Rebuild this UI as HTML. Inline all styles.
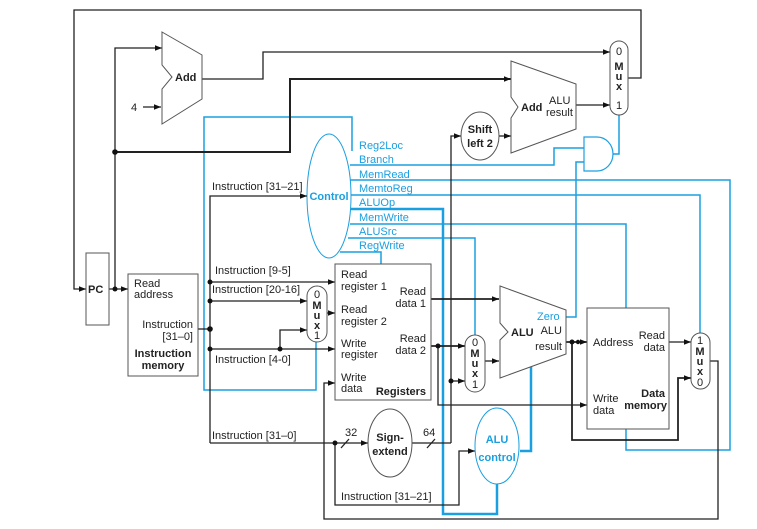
<!DOCTYPE html>
<html><head><meta charset="utf-8"><style>
html,body{margin:0;padding:0;background:#fff}
svg{display:block}
text{font-family:"Liberation Sans",Arial,sans-serif;font-size:11px;fill:#222}
.b{font-weight:bold}
.bl{fill:#1a9fe0}
</style></head><body>
<svg width="757" height="529" viewBox="0 0 757 529" xmlns="http://www.w3.org/2000/svg">
<defs>
<marker id="a" viewBox="0 0 10 10" refX="10" refY="5" markerWidth="7" markerHeight="7" markerUnits="userSpaceOnUse" orient="auto"><path d="M0,1 L10,5 L0,9z" fill="#111"/></marker>
</defs>
<g fill="none" stroke="#1a9fe0" stroke-width="1.5">
<polyline points="352,151 352,117 204,117 204,390 316,390 316,342"/>
<polyline points="350,165 554,165 554,148 584,148"/>
<polyline points="350,180 730,180 730,450 626,450 626,429"/>
<polyline points="348,195 700,195 700,333"/>
<polyline points="350,209 443,209 443,514 497,514 497,484" stroke-width="2.5"/>
<polyline points="350,224 626,224 626,308"/>
<polyline points="348,238 475,238 475,335"/>
<polyline points="340,252 381,252 381,264"/>
<polyline points="566,317 576,317 576,162 584,162"/>
<polyline points="611,154 619,154 619,115"/>
<polyline points="520,451 531,451 531,366" stroke-width="2.5"/>
</g>
<path d="M584,137 L597,137 A16,17 0 0 1 597,171 L584,171 Z" fill="#fff" stroke="#1a9fe0" stroke-width="1.2"/>
<ellipse cx="329" cy="196" rx="22" ry="62" fill="#fff" stroke="#1a9fe0" stroke-width="1"/>
<text x="329" y="200" text-anchor="middle" class="b bl">Control</text>
<g>
<text x="359" y="149" class="bl">Reg2Loc</text>
<text x="359" y="163" class="bl">Branch</text>
<text x="359" y="178" class="bl">MemRead</text>
<text x="359" y="192" class="bl">MemtoReg</text>
<text x="359" y="206" class="bl">ALUOp</text>
<text x="359" y="221" class="bl">MemWrite</text>
<text x="359" y="235" class="bl">ALUSrc</text>
<text x="359" y="249" class="bl">RegWrite</text>
</g>
<g fill="none" stroke="#222" stroke-width="1.3">
<polyline points="628,78 641,78 641,10 74,10 74,289 86,289" marker-end="url(#a)"/>
<polyline points="109,289 128,289" marker-end="url(#a)"/>
<polyline points="115,289 115,48 162,48" marker-end="url(#a)"/>
<polyline points="115,152 290,152 290,79 511,79" marker-end="url(#a)" stroke-width="2"/>
<polyline points="143,107 161,107" marker-end="url(#a)"/>
<polyline points="202,79 263,79 263,52 610,52" marker-end="url(#a)"/>
<polyline points="576,105 610,105" marker-end="url(#a)"/>
<polyline points="451,443 451,136 461,136" marker-end="url(#a)"/>
<polyline points="499,136 511,136" marker-end="url(#a)"/>
<polyline points="198,329 210,329"/>
<polyline points="210,443 210,196 307,196" marker-end="url(#a)"/>
<polyline points="210,282 335,282" marker-end="url(#a)"/>
<polyline points="210,301 307,301" marker-end="url(#a)"/>
<polyline points="210,349 335,349" marker-end="url(#a)"/>
<polyline points="280,349 280,330 307,330" marker-end="url(#a)"/>
<polyline points="327,313 335,313" marker-end="url(#a)"/>
<polyline points="210,443 368,443" marker-end="url(#a)"/>
<polyline points="335,443 335,505 459,505 459,451 475,451" marker-end="url(#a)"/>
<polyline points="412,443 451,443"/>
<polyline points="451,381 465,381" marker-end="url(#a)"/>
<polyline points="431,299 499,299" marker-end="url(#a)" stroke-width="1.8"/>
<polyline points="431,346 465,346" marker-end="url(#a)" stroke-width="1.8"/>
<polyline points="438,346 438,405 587,405" marker-end="url(#a)"/>
<polyline points="485,361 499,361" marker-end="url(#a)"/>
<polyline points="566,342 587,342" marker-end="url(#a)" stroke-width="1.8"/>
<polyline points="572,342 572,440 678,440 678,378 691,378" marker-end="url(#a)" stroke-width="1.8"/>
<polyline points="669,342 691,342" marker-end="url(#a)"/>
<polyline points="710,361 718,361 718,519 324,519 324,383 335,383" marker-end="url(#a)"/>
<line x1="341" y1="448" x2="349" y2="439"/>
<line x1="427" y1="448" x2="435" y2="439"/>
</g>
<g fill="#111">
<circle cx="115" cy="289" r="2.5"/><circle cx="115" cy="152" r="2.8"/>
<circle cx="210" cy="329" r="2.8"/><circle cx="210" cy="282" r="2.5"/><circle cx="210" cy="301" r="2.5"/><circle cx="210" cy="349" r="2.5"/>
<circle cx="280" cy="349" r="2.5"/><circle cx="335" cy="443" r="2.5"/><circle cx="451" cy="381" r="2.5"/>
<circle cx="438" cy="346" r="2.5"/><circle cx="572" cy="342" r="2.5"/><circle cx="578" cy="342" r="2.2"/>
</g>
<g fill="#fff" stroke="#555" stroke-width="1">
<rect x="86" y="253" width="23" height="72"/>
<rect x="128" y="274" width="70" height="102"/>
<rect x="335" y="264" width="96" height="136"/>
<rect x="587" y="308" width="82" height="121"/>
<polygon points="162,32 202,55 202,99 162,124 162,89 172,77 162,65"/>
<polygon points="511,61 576,84 576,129 511,153 511,118 518,107 511,97"/>
<polygon points="500,286 566,310 566,354 500,378 500,340 508,332 500,323"/>
<rect x="610" y="41" width="18" height="74" rx="9"/>
<rect x="307" y="286" width="20" height="56" rx="10"/>
<rect x="465" y="335" width="20" height="57" rx="10"/>
<rect x="691" y="333" width="19" height="56" rx="9.5"/>
<ellipse cx="480" cy="136" rx="19" ry="24"/>
<ellipse cx="390" cy="443" rx="22" ry="34"/>
</g>
<ellipse cx="497" cy="446" rx="22" ry="38" fill="#fff" stroke="#1a9fe0" stroke-width="1"/>
<text x="497" y="443" text-anchor="middle" class="b bl">ALU</text>
<text x="497" y="461" text-anchor="middle" class="b bl">control</text>
<text x="88" y="293" class="b">PC</text>
<text x="175" y="81" class="b">Add</text>
<text x="131" y="111">4</text>
<text x="521" y="111" class="b">Add</text>
<text x="549" y="104">ALU</text>
<text x="546" y="116">result</text>
<text x="480" y="133" text-anchor="middle" class="b">Shift</text>
<text x="480" y="147" text-anchor="middle" class="b">left 2</text>
<g text-anchor="middle" font-size="10">
<text x="619" y="55">0</text><text x="619" y="70" class="b">M</text><text x="619" y="80" class="b">u</text><text x="619" y="90" class="b">x</text><text x="619" y="109">1</text>
<text x="317" y="298">0</text><text x="317" y="309" class="b">M</text><text x="317" y="319" class="b">u</text><text x="317" y="329" class="b">x</text><text x="317" y="339">1</text>
<text x="475" y="346">0</text><text x="475" y="357" class="b">M</text><text x="475" y="367" class="b">u</text><text x="475" y="377" class="b">x</text><text x="475" y="388">1</text>
<text x="700" y="344">1</text><text x="700" y="355" class="b">M</text><text x="700" y="365" class="b">u</text><text x="700" y="375" class="b">x</text><text x="700" y="386">0</text>
</g>
<text x="134" y="287">Read</text><text x="134" y="298">address</text>
<text x="193" y="328" text-anchor="end">Instruction</text><text x="193" y="340" text-anchor="end">[31–0]</text>
<text x="163" y="357" text-anchor="middle" class="b">Instruction</text><text x="163" y="369" text-anchor="middle" class="b">memory</text>
<text x="212" y="190">Instruction [31–21]</text>
<text x="215" y="274">Instruction [9-5]</text>
<text x="212" y="293">Instruction [20-16]</text>
<text x="215" y="363">Instruction [4-0]</text>
<text x="212" y="439">Instruction [31–0]</text>
<text x="341" y="500">Instruction [31–21]</text>
<text x="345" y="436">32</text><text x="423" y="436">64</text>
<text x="390" y="441" text-anchor="middle" class="b">Sign-</text><text x="390" y="455" text-anchor="middle" class="b">extend</text>
<text x="341" y="278">Read</text><text x="341" y="290">register 1</text>
<text x="341" y="313">Read</text><text x="341" y="325">register 2</text>
<text x="341" y="347">Write</text><text x="341" y="358">register</text>
<text x="341" y="381">Write</text><text x="341" y="392">data</text>
<text x="426" y="395" text-anchor="end" class="b">Registers</text>
<text x="426" y="295" text-anchor="end">Read</text><text x="426" y="307" text-anchor="end">data 1</text>
<text x="426" y="342" text-anchor="end">Read</text><text x="426" y="354" text-anchor="end">data 2</text>
<text x="511" y="336" class="b">ALU</text>
<text x="562" y="334" text-anchor="end">ALU</text><text x="562" y="350" text-anchor="end">result</text>
<text x="537" y="320" class="bl">Zero</text>
<text x="593" y="346">Address</text>
<text x="665" y="339" text-anchor="end">Read</text><text x="665" y="351" text-anchor="end">data</text>
<text x="593" y="402">Write</text><text x="593" y="414">data</text>
<text x="665" y="397" text-anchor="end" class="b">Data</text><text x="667" y="409" text-anchor="end" class="b">memory</text>
</svg>
</body></html>
